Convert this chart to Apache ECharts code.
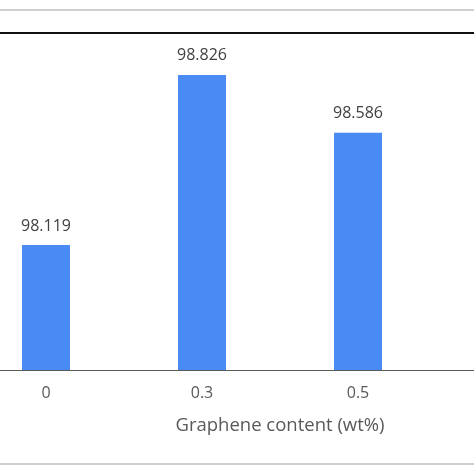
<!DOCTYPE html>
<html>
<head>
<meta charset="utf-8">
<script src="https://cdn.jsdelivr.net/npm/echarts@6/dist/echarts.min.js"></script>
<style>
html,body{margin:0;padding:0;background:#fff;}
#chart{width:474px;height:474px;}
</style>
</head>
<body>
<div id="chart"></div>
<script>
// Data (4th category is outside the visible crop)
var categories = ['0', '0.3', '0.5', ''];
var densityValues = [98.119, 98.826, 98.586, null];
var xAxisTitle = 'Graphene content (wt%)';
var yMin = 97.6;
var yMax = 99.0;

var chart = echarts.init(document.getElementById('chart'), null, {renderer: 'canvas'});
chart.setOption({
  animation: false,
  backgroundColor: '#ffffff',
  graphic: [{
    type: 'rect',
    shape: {x: -10, y: 10, width: 494, height: 454},
    style: {fill: 'none', stroke: '#cfcfcf', lineWidth: 2},
    silent: true
  }],
  grid: {left: -32, width: 624, top: 33, bottom: 104, containLabel: false, outerBoundsMode: 'none'},
  xAxis: [{
    type: 'category',
    data: categories,
    position: 'bottom',
    axisLine: {show: true, lineStyle: {color: '#595959', width: 1.2}},
    axisTick: {show: false},
    axisLabel: {color: '#595959', fontSize: 16, margin: 15, fontFamily: 'Open Sans'},
    name: xAxisTitle,
    nameLocation: 'middle',
    nameGap: 46,
    nameTextStyle: {color: '#595959', fontSize: 18.5, fontFamily: 'Open Sans'}
  }, {
    type: 'category',
    data: categories,
    position: 'top',
    axisLine: {show: true, lineStyle: {color: '#111111', width: 2}},
    axisTick: {show: false},
    axisLabel: {show: false}
  }],
  yAxis: {
    type: 'value',
    min: yMin,
    max: yMax,
    interval: 0.2,
    show: false,
    splitLine: {show: false}
  },
  series: [{
    type: 'bar',
    data: densityValues,
    barWidth: 48,
    itemStyle: {color: '#4a8af4'},
    label: {
      show: true,
      position: 'top',
      distance: 11,
      color: '#404040',
      fontSize: 16,
      fontFamily: 'Open Sans',
      formatter: function (p) { return p.value.toFixed(3); }
    }
  }]
});
</script>
</body>
</html>
